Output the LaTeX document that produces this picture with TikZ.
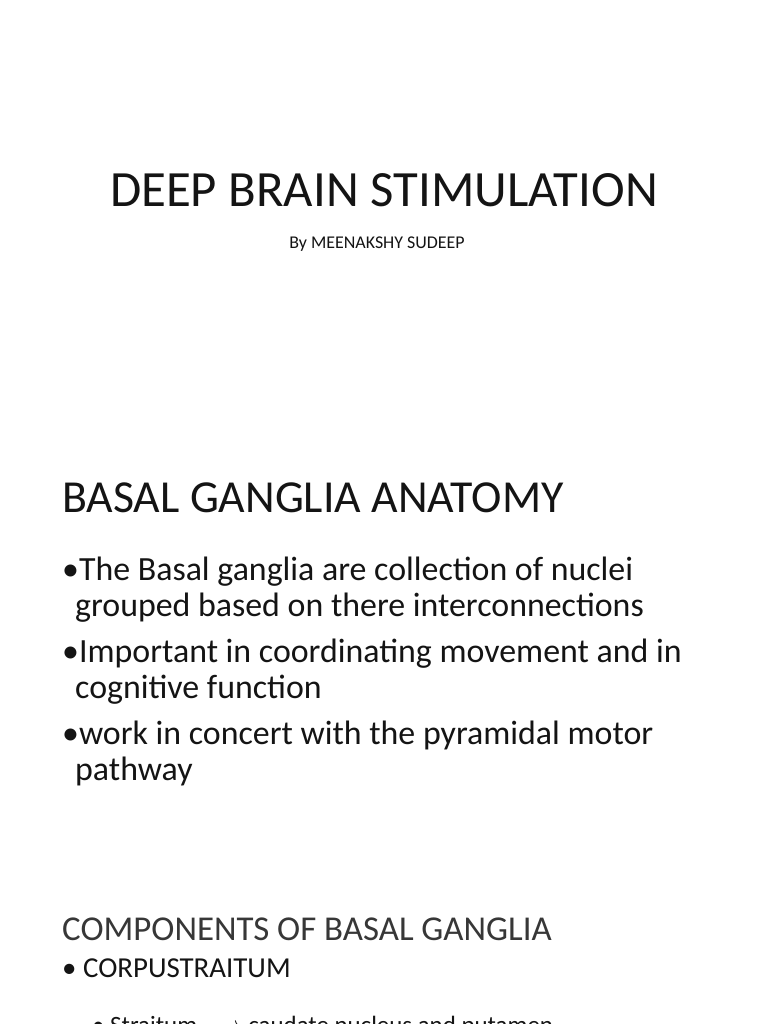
\documentclass[tikz,border=0pt]{standalone}
\usepackage{fontspec}
\setmainfont{Carlito}
\usepackage{tikz}
\usepackage{xcolor}
\definecolor{slidetext}{RGB}{20,20,20}

\begin{document}
\begin{tikzpicture}[x=1bp,y=-1bp,
	txt/.style={text=slidetext,inner sep=0pt,anchor=base west},
	ctr/.style={text=slidetext,inner sep=0pt,anchor=base}]
	 	\useasboundingbox[fill=white] (0,0) rectangle (768,1024);
	 	%% title slide
	 	\node[ctr,font=\fontsize{51}{56}\selectfont] (title) at (384,206) {DEEP BRAIN STIMULATION};
	 	\node[ctr,font=\fontsize{18}{20}\selectfont] (author) at (377,248) {By MEENAKSHY SUDEEP};
	 	%% anatomy slide
	 	\node[txt,font=\fontsize{46}{52}\selectfont] (anat) at (62,512) {BASAL GANGLIA ANATOMY};
	 	\node[txt,font=\fontsize{34}{40}\selectfont] (b1) at (62,580) {\textbullet The Basal ganglia are collection of nuclei};
	 	\node[txt,font=\fontsize{34}{40}\selectfont] (b1b) at (75,616) {grouped based on there interconnections};
	 	\node[txt,font=\fontsize{34}{40}\selectfont] (b2) at (62,662) {\textbullet Important in coordinating movement and in};
	 	\node[txt,font=\fontsize{34}{40}\selectfont] (b2b) at (75,698) {cognitive function};
	 	\node[txt,font=\fontsize{34}{40}\selectfont] (b3) at (62,744) {\textbullet work in concert with the pyramidal motor};
	 	\node[txt,font=\fontsize{34}{40}\selectfont] (b3b) at (75,780) {pathway};
	 	%% components slide
	 	\node[txt,font=\fontsize{35}{40}\selectfont,text=slidetext!85] (comp) at (62,940) {COMPONENTS OF BASAL GANGLIA};
	 	\node[txt,font=\fontsize{29}{34}\selectfont] (c1) at (62,977) {\textbullet\ CORPUSTRAITUM};
	 	\node[txt,font=\fontsize{25}{30}\selectfont] (c2) at (92,1033) {\textbullet\ Straitum $\longrightarrow$ caudate nucleus and putamen};
	 	\end{tikzpicture}
\end{document}
